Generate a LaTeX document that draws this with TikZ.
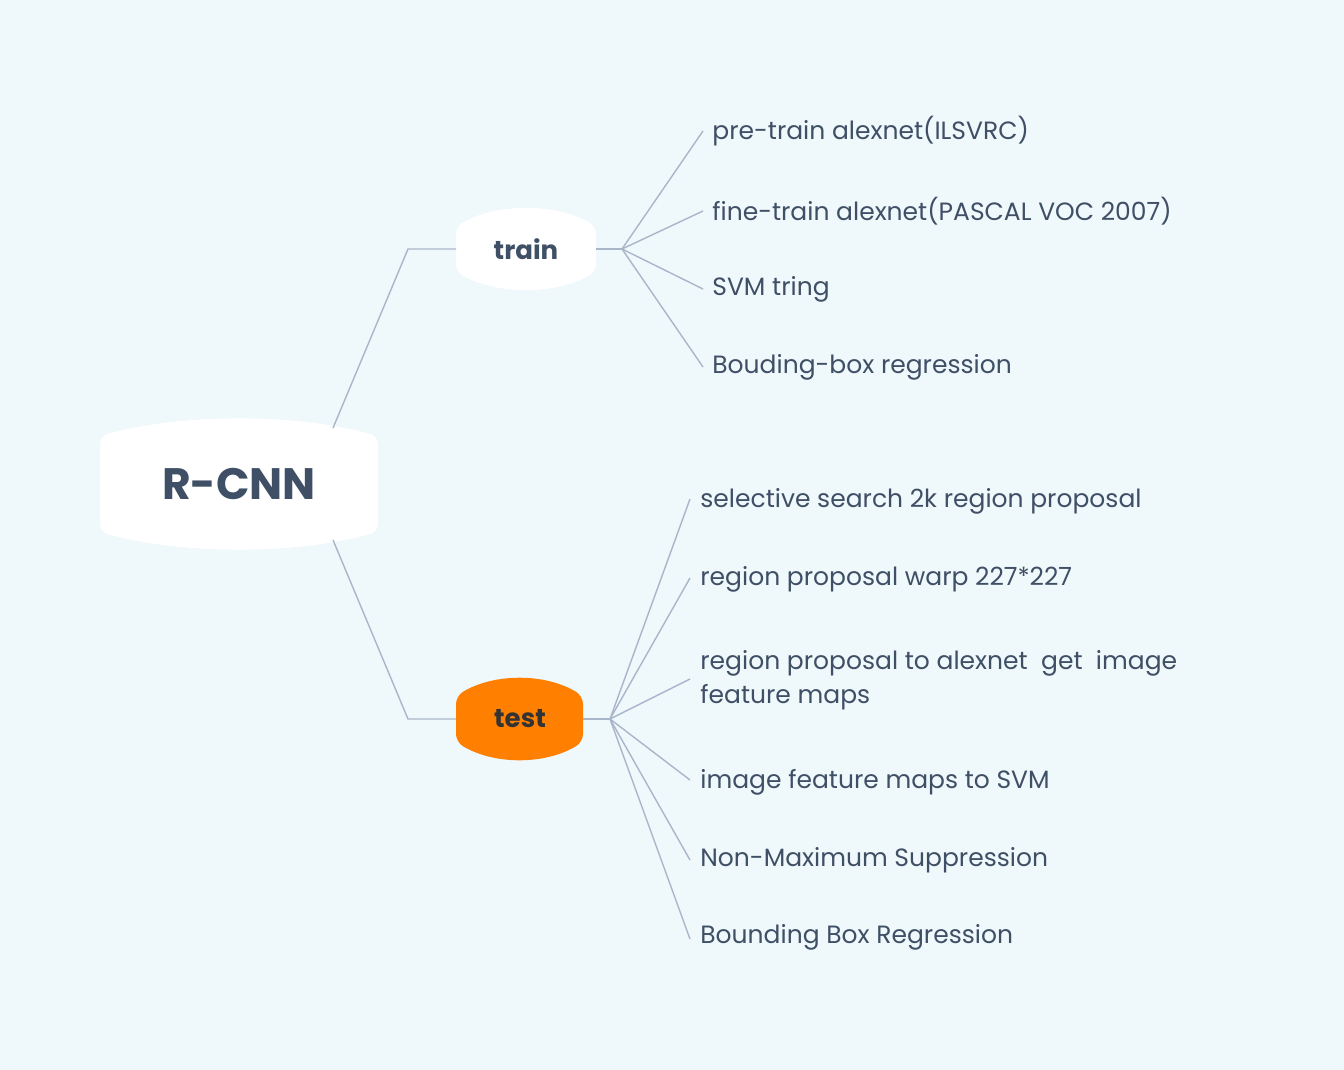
\documentclass[tikz,border=0pt]{standalone}
\usepackage{fontspec}
\setmainfont{Poppins}
\definecolor{bg}{HTML}{EFF8FB}
\definecolor{ln}{HTML}{A9B6C9}
\definecolor{tx}{HTML}{3F4F66}
\definecolor{org}{HTML}{FF8000}
\tikzset{
  leaf/.style={anchor=west,inner sep=0pt,text=tx,font=\fontsize{12.5}{17}\selectfont,align=left},
  conn/.style={ln,line width=0.7pt}
}
\newcommand{\barrelbox}[5]{% x1,y1,x2,y2,fill
  \fill[#5,rounded corners=4pt] (#1,#2+18) .. controls (#1+0.3*#3-0.3*#1,#2-5) and (#3-0.3*#3+0.3*#1,#2-5) .. (#3,#2+18)
    -- (#3,#4-18) .. controls (#3-0.3*#3+0.3*#1,#4+5) and (#1+0.3*#3-0.3*#1,#4+5) .. (#1,#4-18) -- cycle;}
\begin{document}
\begin{tikzpicture}[x=0.5pt,y=-0.5pt]
\fill[bg] (0,0) rectangle (1344,1070);
\useasboundingbox (0,0) rectangle (1344,1070);
% node shapes
\barrelbox{100}{418}{378}{550}{white}
\barrelbox{456}{208}{596}{290}{white}
\barrelbox{456}{678}{583}{760}{org}
\node[text=tx,font=\fontsize{22}{26}\selectfont\bfseries] (root) at (239,484) {R-CNN};
\node[text=tx,font=\fontsize{13}{15}\selectfont\bfseries] (train) at (526,249) {train};
\node[text=black!80,font=\fontsize{13}{15}\selectfont\bfseries] (test) at (520,719) {test};
\coordinate (rt) at (333,428); \coordinate (rb) at (333,540);
\coordinate (tr0) at (456,249); \coordinate (te0) at (456,719);
\coordinate (tr1) at (596,249); \coordinate (trh) at (622,249);
\coordinate (te1) at (583,719); \coordinate (teh) at (610,719);
\draw[conn] (rt) -- (408,249) -- (tr0);
\draw[conn] (rb) -- (408,719) -- (te0);
\draw[conn] (tr1) -- (trh);
\draw[conn] (te1) -- (teh);
% train leaves
\foreach \n/\y/\t in {a/131/{pre-train alexnet(ILSVRC)},b/211/{fine-train alexnet(PASCAL VOC 2007)},c/289/{SVM tring},d/367/{Bouding-box regression}}{
  \node[leaf] (\n) at (712,\y) {\t};
  \draw[conn] (trh) -- (703,\y);
}
% test leaves
\foreach \n/\y/\ly/\t in {e/499/501/{selective search 2k region proposal},f/578/579/{region proposal warp 227*227},h/780/782/{image feature maps to SVM},i/860/860/{Non-Maximum Suppression},j/939/937/{Bounding Box Regression}}{
  \node[leaf] (\n) at (700,\ly) {\t};
  \draw[conn] (teh) -- (690,\y);
}
\node[leaf] (g) at (700,680) {region proposal to alexnet\ \ get\ \ image\\feature maps};
\draw[conn] (teh) -- (690,679);
\end{tikzpicture}
\end{document}
